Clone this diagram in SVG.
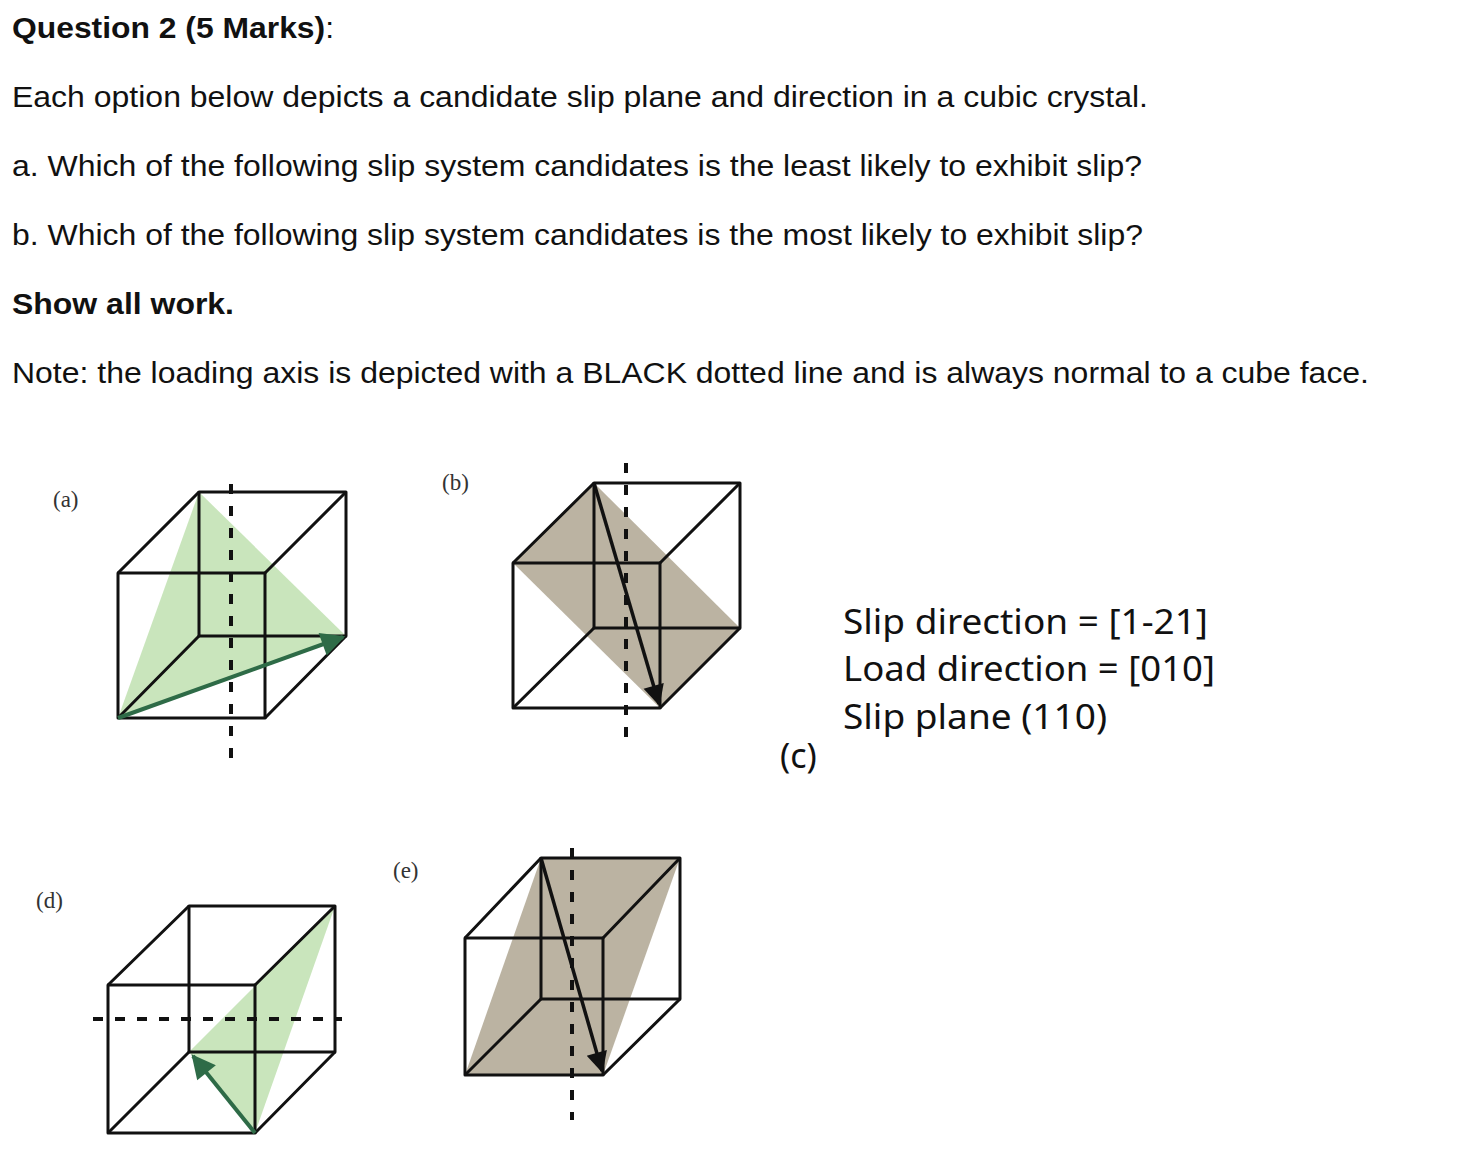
<svg xmlns="http://www.w3.org/2000/svg" width="1470" height="1160" viewBox="0 0 1470 1160">
<defs>
<style>
.t{font-family:"Liberation Sans",Arial,sans-serif;font-size:29px;fill:#111}
.b{font-weight:bold}
.lab{font-family:"Liberation Serif",serif;font-size:23px;fill:#333}
.c{font-family:"Noto Sans","Open Sans",sans-serif;font-size:34px;fill:#111}
.e{fill:none;stroke:#111;stroke-width:3;stroke-linejoin:round}
.ax{stroke:#111;stroke-width:4;stroke-dasharray:10 12;fill:none}
.g{fill:#a5d38f;fill-opacity:0.6}
.br{fill:#9e937a;fill-opacity:0.7}
</style>
<marker id="ag" viewBox="0 0 10 10" refX="9" refY="5" markerWidth="7" markerHeight="6" orient="auto"><path d="M0,0L10,5L0,10z" fill="#2e6b47"/></marker>
<marker id="ak" viewBox="0 0 10 10" refX="9" refY="5" markerWidth="8" markerHeight="6" orient="auto"><path d="M0,0L10,5L0,10z" fill="#111"/></marker>
</defs>
<rect width="1470" height="1160" fill="#fff"/>
<g id="text">
<text class="t b" x="12" y="38" textLength="322" lengthAdjust="spacingAndGlyphs">Question 2 (5 Marks)<tspan font-weight="normal">:</tspan></text>
<text class="t" x="12" y="107" textLength="1136" lengthAdjust="spacingAndGlyphs">Each option below depicts a candidate slip plane and direction in a cubic crystal.</text>
<text class="t" x="12" y="176" textLength="1130" lengthAdjust="spacingAndGlyphs">a. Which of the following slip system candidates is the least likely to exhibit slip?</text>
<text class="t" x="12" y="245" textLength="1131" lengthAdjust="spacingAndGlyphs">b. Which of the following slip system candidates is the most likely to exhibit slip?</text>
<text class="t b" x="12" y="314" textLength="222" lengthAdjust="spacingAndGlyphs">Show all work.</text>
<text class="t" x="12" y="383" textLength="1357" lengthAdjust="spacingAndGlyphs">Note: the loading axis is depicted with a BLACK dotted line and is always normal to a cube face.</text>
</g>
<g id="cube-a">
<polygon class="g" points="199,492 346,636 118,718"/>
<rect class="e" x="199" y="492" width="147" height="144"/>
<rect class="e" x="118" y="573" width="147" height="145"/>
<path class="e" d="M118,573L199,492M265,573L346,492M118,718L199,636M265,718L346,636"/>
<line class="ax" x1="231" y1="484" x2="231" y2="760"/>
<line x1="118" y1="718" x2="343" y2="637" stroke="#2e6b47" stroke-width="4" marker-end="url(#ag)"/>
<text class="lab" x="53" y="507">(a)</text>
</g>
<g id="cube-b">
<polygon class="br" points="594,483 740,628 660,708 513,563"/>
<rect class="e" x="594" y="483" width="146" height="145"/>
<rect class="e" x="513" y="563" width="147" height="145"/>
<path class="e" d="M513,563L594,483M660,563L740,483M513,708L594,628M660,708L740,628"/>
<line class="ax" x1="626" y1="463" x2="626" y2="745"/>
<line x1="594" y1="483" x2="659" y2="704" stroke="#111" stroke-width="3.5" marker-end="url(#ak)"/>
<text class="lab" x="442" y="490">(b)</text>
</g>
<g id="option-c">
<text class="c" x="780" y="768" font-size="30">(c)</text>
<text class="c" x="843" y="634" textLength="365" lengthAdjust="spacingAndGlyphs">Slip direction = [1-21]</text>
<text class="c" x="843" y="681" textLength="372" lengthAdjust="spacingAndGlyphs">Load direction = [010]</text>
<text class="c" x="843" y="729" textLength="264" lengthAdjust="spacingAndGlyphs">Slip plane (110)</text>
</g>
<g id="cube-d">
<polygon class="g" points="335,906 255,1133 189,1052"/>
<rect class="e" x="189" y="906" width="146" height="146"/>
<rect class="e" x="108" y="985" width="147" height="148"/>
<path class="e" d="M108,985L189,906M255,985L335,906M108,1133L189,1052M255,1133L335,1052"/>
<line class="ax" x1="93" y1="1019" x2="342" y2="1019"/>
<line x1="255" y1="1133" x2="193" y2="1056" stroke="#2e6b47" stroke-width="4" marker-end="url(#ag)"/>
<text class="lab" x="36" y="908">(d)</text>
</g>
<g id="cube-e">
<polygon class="br" points="541,858 680,858 603,1075 465,1075"/>
<rect class="e" x="541" y="858" width="139" height="141"/>
<rect class="e" x="465" y="938" width="138" height="137"/>
<path class="e" d="M465,938L541,858M603,938L680,858M465,1075L541,999M603,1075L680,999"/>
<line class="ax" x1="572" y1="848" x2="572" y2="1120"/>
<line x1="541" y1="858" x2="602" y2="1071" stroke="#111" stroke-width="3.5" marker-end="url(#ak)"/>
<text class="lab" x="393" y="878">(e)</text>
</g>
</svg>
